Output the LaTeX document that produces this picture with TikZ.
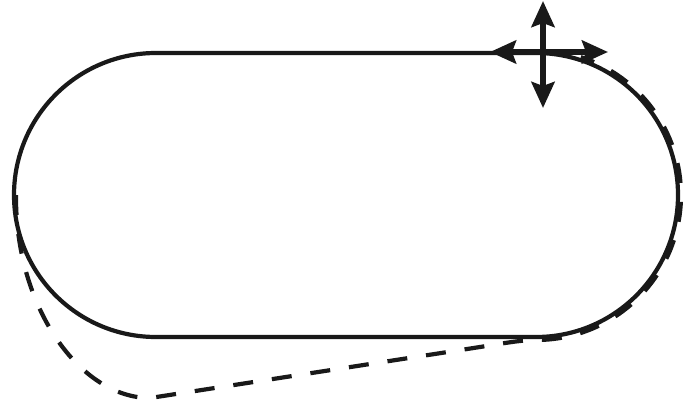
\documentclass[tikz,border=0pt]{standalone}
\usetikzlibrary{arrows.meta}
\begin{document}
\begin{tikzpicture}[x=1pt,y=1pt,
  track/.style={line width=4.2pt,draw=black!90},
  dashtrack/.style={line width=4.2pt,draw=black!90,dash pattern=on 20pt off 19pt},
  dblarrow/.style={line width=6pt,draw=black!90,{Stealth[length=26pt,width=23pt,inset=4pt]}-{Stealth[length=26pt,width=23pt,inset=4pt]}}]
\useasboundingbox (0,0) rectangle (684,402);
\coordinate (tl) at (156,349);
\coordinate (tr) at (536,349);
\coordinate (bl) at (156,65);
\coordinate (hl) at (490,350);
\coordinate (hr) at (608,350);
\coordinate (vt) at (543,401);
\coordinate (vb) at (543,294);
\coordinate (ds) at (16,207);
\coordinate (db) at (150,4);
\coordinate (dm) at (480,55);
\coordinate (dr) at (536,62);
% stadium
\draw[track] (tl) -- (tr) arc[start angle=90,end angle=-90,radius=142pt] -- (bl) arc[start angle=270,end angle=90,radius=142pt] -- cycle;
% dashed track
\draw[dashtrack] (ds) .. controls (15,95) and (80,4) .. (db) -- (dm) .. controls (510,60) and (524,62) .. (dr) arc[start angle=-90,end angle=72,radius=145pt];
% arrows
\draw[dblarrow] (hl) -- (hr);
\draw[dblarrow] (vb) -- (vt);
\end{tikzpicture}
\end{document}
